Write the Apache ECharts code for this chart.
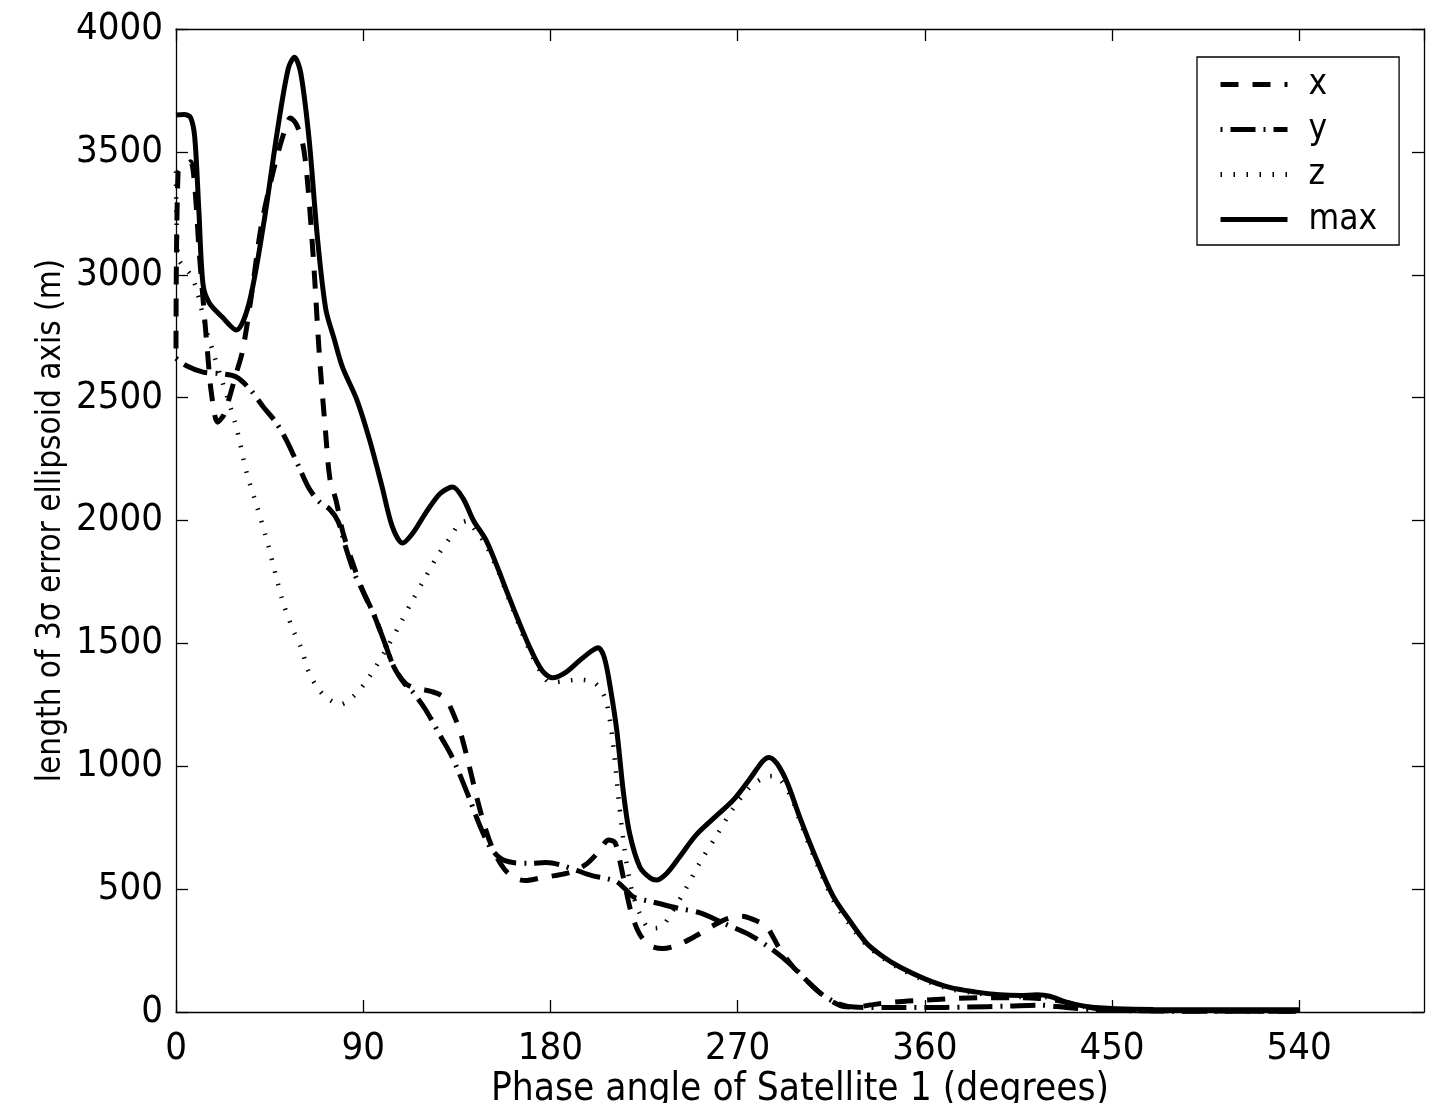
<!DOCTYPE html>
<html>
<head>
<meta charset="utf-8">
<script src="https://cdn.jsdelivr.net/npm/echarts@6/dist/echarts.min.js"></script>
<style>
  html, body { margin: 0; padding: 0; background: #fff; }
  #chart { width: 1454px; height: 1103px; }
</style>
</head>
<body>
<div id="chart"></div>
<script>
// phase angle (deg) / axis length (m)
const xAngle = [0, 1, 4, 7, 9, 11, 13, 15, 17, 20, 23, 26, 29, 32, 36, 41, 47, 52, 55, 58, 61, 63, 66, 69, 72, 74, 77, 80, 84, 90, 95, 100, 105, 110, 114, 120, 126, 130, 134, 137, 141, 145, 149, 153, 158, 163, 168, 175, 182, 190, 197, 203, 208, 211, 213, 216, 219, 223, 228, 234, 241, 250, 258, 265, 272, 278, 284, 290, 296, 303, 310, 316, 321, 326, 335, 345, 360, 375, 390, 405, 415, 425, 435, 445, 460, 500, 540]
const xLen = [2700, 3420, 3440, 3460, 3360, 3110, 2900, 2700, 2520, 2400, 2430, 2510, 2600, 2690, 2900, 3200, 3430, 3580, 3638, 3610, 3530, 3400, 3070, 2665, 2350, 2170, 2080, 1960, 1850, 1710, 1620, 1510, 1400, 1340, 1320, 1310, 1295, 1270, 1200, 1130, 1000, 860, 740, 650, 580, 545, 535, 545, 555, 570, 600, 650, 700, 690, 630, 510, 400, 315, 270, 258, 272, 310, 350, 380, 390, 375, 346, 260, 190, 130, 75, 40, 22, 20, 30, 40, 48, 55, 58, 58, 55, 45, 25, 12, 6, 4, 3]

const yAngle = [0, 5, 13, 21, 29, 36, 42, 48, 53, 59, 64, 69, 74, 78, 82, 86, 90, 95, 100, 105, 110, 114, 120, 128, 132, 136, 141, 146, 151, 156, 162, 170, 178, 185, 193, 200, 207, 212, 216, 220, 229, 241, 252, 263, 276, 287, 296, 303, 310, 318, 326, 340, 360, 380, 400, 415, 428, 440, 460, 500, 540]
const yLen = [2660, 2630, 2604, 2598, 2584, 2530, 2462, 2400, 2328, 2220, 2130, 2075, 2045, 1995, 1880, 1780, 1710, 1620, 1510, 1400, 1335, 1300, 1230, 1110, 1050, 975, 870, 760, 671, 625, 608, 605, 608, 598, 575, 555, 543, 530, 500, 468, 448, 423, 403, 362, 313, 252, 190, 130, 75, 35, 20, 18, 18, 20, 24, 28, 18, 10, 5, 3, 3]

const zAngle = [0, 1, 4, 7, 10, 15, 18, 22, 29, 34, 39, 44, 51, 56, 60, 64, 68, 72, 79, 85, 91, 96, 102, 108, 114, 120, 126, 132, 136, 140, 144, 149, 155, 160, 170, 176, 180, 186, 193, 200, 204, 207, 210, 213, 216, 219, 223, 228, 233, 238, 245, 252, 260, 268, 276, 283, 287, 291, 296, 300, 308, 316, 324, 332, 340, 348, 360, 372, 384, 396, 406, 414, 420, 428, 436, 444, 452, 470, 500, 540]
const zLen = [3420, 3070, 3030, 3000, 2938, 2763, 2682, 2572, 2380, 2193, 2055, 1910, 1680, 1560, 1485, 1380, 1320, 1282, 1252, 1282, 1340, 1404, 1490, 1583, 1680, 1770, 1860, 1933, 1985, 1998, 1960, 1900, 1790, 1680, 1470, 1375, 1340, 1345, 1352, 1345, 1315, 1260, 1100, 850, 640, 500, 400, 340, 345, 400, 500, 610, 720, 830, 915, 955, 960, 940, 870, 775, 605, 455, 355, 272, 218, 176, 128, 94, 77, 64, 61, 63, 58, 36, 22, 15, 11, 8, 7, 7]

const maxAngle = [0, 4, 7, 9, 11, 13, 16, 22, 29, 35, 42, 49, 54, 57, 60, 64, 68, 72, 76, 80, 87, 93, 99, 104, 109, 114, 120, 127, 133, 138, 143, 149, 155, 160, 170, 176, 181, 187, 194, 200, 203, 206, 209, 212, 215, 218, 223, 228, 231, 236, 242, 250, 260, 268, 276, 282, 285, 289, 294, 300, 308, 316, 324, 332, 340, 348, 360, 372, 384, 396, 406, 414, 420, 428, 436, 444, 452, 470, 500, 540]
const maxLen = [3650, 3652, 3640, 3560, 3260, 2960, 2885, 2830, 2775, 2880, 3200, 3600, 3840, 3885, 3820, 3550, 3150, 2860, 2740, 2625, 2490, 2330, 2140, 1975, 1908, 1950, 2030, 2110, 2136, 2090, 2000, 1921, 1800, 1690, 1485, 1390, 1360, 1380, 1430, 1470, 1482, 1440, 1310, 1140, 900, 730, 590, 545, 537, 565, 630, 720, 800, 863, 950, 1020, 1036, 1010, 930, 790, 620, 470, 370, 280, 225, 183, 135, 100, 82, 70, 67, 70, 64, 40, 25, 17, 13, 10, 9, 9]

const pairs = (a, v) => a.map((d, i) => [d, v[i]])

const labelFont = "'DejaVu Sans Condensed', 'Liberation Sans Narrow', 'DejaVu Sans', sans-serif"

const chart = echarts.init(document.getElementById('chart'), null, { renderer: 'canvas' })

const axisLine = { show: true, onZero: false, lineStyle: { color: '#000', width: 1.3 } }
const axisTick = { show: true, inside: true, length: 12, lineStyle: { color: '#000', width: 1.3 } }

const lineSeries = (name, a, v, type, width) => ({
    name: name,
    type: 'line',
    data: pairs(a, v),
    symbol: 'none',
    showSymbol: false,
    smooth: 0.3,
    itemStyle: { color: '#000', opacity: 0 },
    lineStyle: { color: '#000', width: width, type: type, cap: 'butt', opacity: 1 },
    z: name === 'max' ? 3 : 2
})

const option = {
    backgroundColor: '#fff',
    animation: false,
    grid: { left: 176, right: 30, top: 29, bottom: 91, outerBoundsMode: 'none', containLabel: false },
    legend: {
        left: 1197,
        top: 57,
        orient: 'vertical',
        backgroundColor: '#fff',
        borderColor: '#000',
        borderWidth: 1.3,
        borderRadius: 0,
        padding: [10, 22, 8, 21],
        itemWidth: 67,
        itemHeight: 14,
        itemGap: 10,
        itemStyle: { opacity: 0 },
        lineStyle: { width: 5, color: '#000' },
        textStyle: { fontFamily: labelFont, fontSize: 35, lineHeight: 35, color: '#000', padding: [0, 0, 0, 16] },
        data: ['x', 'y', 'z', 'max']
    },
    xAxis: [
        {
            type: 'value',
            position: 'bottom',
            min: 0,
            max: 600,
            interval: 90,
            axisLine: axisLine,
            axisTick: axisTick,
            splitLine: { show: false },
            axisLabel: {
                showMaxLabel: false,
                margin: 18,
                fontFamily: labelFont,
                fontSize: 38,
                color: '#000'
            },
            name: 'Phase angle of Satellite 1 (degrees)',
            nameLocation: 'middle',
            nameGap: 78,
            nameMoveOverlap: false,
            nameTextStyle: { fontFamily: labelFont, fontSize: 38.5, color: '#000', verticalAlign: 'middle' }
        },
        {
            type: 'value',
            position: 'top',
            min: 0,
            max: 600,
            interval: 90,
            axisLine: axisLine,
            axisTick: axisTick,
            axisLabel: { show: false },
            splitLine: { show: false }
        }
    ],
    yAxis: [
        {
            type: 'value',
            position: 'left',
            min: 0,
            max: 4000,
            interval: 500,
            axisLine: axisLine,
            axisTick: axisTick,
            splitLine: { show: false },
            axisLabel: {
                margin: 13,
                fontFamily: labelFont,
                fontSize: 38,
                color: '#000',
                formatter: v => String(v)
            },
            name: 'length of 3σ error ellipsoid axis (m)',
            nameLocation: 'middle',
            nameGap: 125,
            nameMoveOverlap: false,
            nameTextStyle: { fontFamily: labelFont, fontSize: 33, color: '#000', verticalAlign: 'middle' }
        },
        {
            type: 'value',
            position: 'right',
            min: 0,
            max: 4000,
            interval: 500,
            axisLine: axisLine,
            axisTick: axisTick,
            axisLabel: { show: false },
            splitLine: { show: false }
        }
    ],
    series: [
        lineSeries('x', xAngle, xLen, [18, 14], 5),
        lineSeries('y', yAngle, yLen, [2, 8, 25, 8], 5),
        lineSeries('z', zAngle, zLen, [1.5, 11.5], 4.5),
        lineSeries('max', maxAngle, maxLen, 'solid', 5)
    ]
}

chart.setOption(option)
</script>
</body>
</html>
